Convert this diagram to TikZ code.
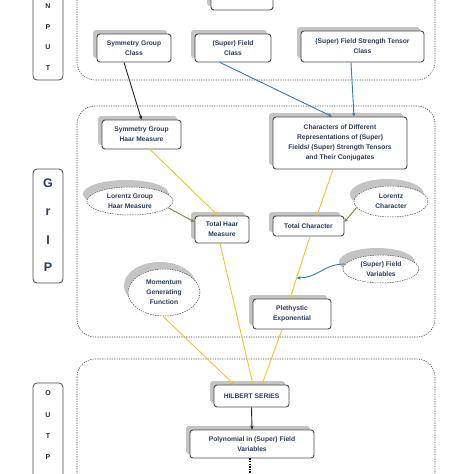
\documentclass[tikz,border=0pt]{standalone}
\usepackage{fontspec}
\setmainfont{Liberation Sans}
\usetikzlibrary{shapes.geometric,shadows,calc,arrows.meta}
\definecolor{txt}{HTML}{2A3B5C}
\definecolor{bord}{HTML}{4A4A4A}
\definecolor{shad}{HTML}{C4C4C4}
\definecolor{yel}{HTML}{F0C429}
\definecolor{blu}{HTML}{2B7BB9}
\definecolor{oli}{HTML}{76874A}
\begin{document}
\begin{tikzpicture}[x=1pt,y=-1pt,
  box/.style={draw=bord, line width=0.9pt, rounded corners=3pt, fill=white, align=center,
    font=\fontsize{6.7}{10}\selectfont\bfseries, text=txt, inner sep=0pt,
    general shadow={fill=shad, shadow xshift=-4pt, shadow yshift=4pt}},
  ell/.style={ellipse, draw=bord, line width=0.5pt, dash pattern=on 1.5pt off 1pt, fill=white, align=center,
    font=\fontsize{6.7}{10}\selectfont\bfseries, text=txt, inner sep=0pt,
    general shadow={fill=shad, shadow xshift=-4pt, shadow yshift=7pt}},
  region/.style={draw=bord, line width=0.6pt, dash pattern=on 1.2pt off 1.2pt, rounded corners=18pt},
  side/.style={draw=bord, line width=0.8pt, rounded corners=4pt, fill=white},
  letter/.style={font=\fontsize{7}{8}\selectfont\bfseries, text=black!85},
  bigletter/.style={font=\fontsize{12.5}{13}\selectfont\bfseries, text=txt},
  yarr/.style={draw=yel, line width=0.9pt, -{Stealth[length=4pt,width=3.5pt]}},
  barr/.style={draw=blu, line width=0.9pt, -{Stealth[length=4pt,width=3.5pt]}},
  oarr/.style={draw=oli, line width=0.9pt, -{Stealth[length=4pt,width=3.5pt]}},
  karr/.style={draw=black!85, line width=0.9pt, -{Stealth[length=4pt,width=3.5pt]}}
]
\useasboundingbox (0,0) rectangle (474,474);
\clip (0,0) rectangle (474,474);
\fill[white] (0,0) rectangle (474,474);

% regions
\draw[region] (77,-40) rectangle (435,80);
\draw[region] (77,106) rectangle (435,337);
\draw[region] (77,359) rectangle (435,540);

% side boxes
\draw[side] (33,-30) rectangle (63,80);
\node[letter] (li) at (48,-14) {I};
\node[letter] (ln) at (48,6) {N};
\node[letter] (lp) at (48,27) {P};
\node[letter] (lu) at (48,47) {U};
\node[letter] (lt) at (48,68) {T};

\draw[side] (33,169) rectangle (63,283);
\node[bigletter] (gg) at (48,183) {G};
\node[bigletter] (gr) at (48,212) {r};
\node[bigletter] (gi) at (48,240) {I};
\node[bigletter] (gp) at (48,267) {P};

\draw[side] (33,383) rectangle (63,540);
\node[letter] (oo) at (48,393) {O};
\node[letter] (ou) at (48,415) {U};
\node[letter] (ot) at (48,436) {T};
\node[letter] (op) at (48,457) {P};
\node[letter] (ou2) at (48,478) {U};

% rectangle nodes
\node[box, minimum width=62pt, minimum height=24pt] (model) at (242,-2) {Model Name};
\node[box, minimum width=74pt, minimum height=28pt] (sgc) at (134,48) {Symmetry Group\\Class};
\node[box, minimum width=76pt, minimum height=28pt] (sfc) at (233,48) {(Super) Field\\Class};
\node[box, minimum width=123pt, minimum height=31pt] (tc) at (362.5,46.5) {(Super) Field Strength Tensor\\Class};
\node[box, minimum width=79pt, minimum height=29pt] (sghm) at (141.5,134.5) {Symmetry Group\\Haar Measure};
\node[box, minimum width=134pt, minimum height=52pt] (chars) at (340,143) {Characters of Different\\Representations of (Super)\\Fields/ (Super) Strength Tensors\\and Their Conjugates};
\node[box, minimum width=54pt, minimum height=27pt] (thm) at (222,229.5) {Total Haar\\Measure};
\node[box, minimum width=71pt, minimum height=20pt] (tch) at (308.5,226) {Total Character};
\node[box, minimum width=78pt, minimum height=30pt] (pe) at (292,314) {Plethystic\\Exponential};
\node[box, minimum width=75pt, minimum height=22pt] (hs) at (251.5,396) {HILBERT SERIES};
\node[box, minimum width=124pt, minimum height=28pt] (poly) at (252,444) {Polynomial in (Super) Field\\Variables};

% ellipse nodes
\node[ell, minimum width=86pt, minimum height=28pt] (lghm) at (130,201) {Lorentz Group\\Haar Measure};
\node[ell, minimum width=74pt, minimum height=31pt] (lch) at (391,201.5) {Lorentz\\Character};
\node[ell, minimum width=76pt, minimum height=28pt] (sfv) at (381,269) {(Super) Field\\Variables};
\node[ell, minimum width=72pt, minimum height=47pt] (mgf) at (164,292.5) {Momentum\\Generating\\Function};

% connectors
\draw[karr] ($(sgc.south)+(-10,0)$) -- (sghm.north);
\draw[barr] ($(sfc.south)+(-13,0)$) -- ($(chars.north)+(-8,0)$);
\draw[barr] ($(tc.south)+(-11.5,0)$) -- ($(chars.north)+(14,0)$);
\draw[yarr] ($(sghm.south)+(8.5,0)$) -- ($(thm.north)+(-4,0)$);
\draw[oarr] (lghm.-10) -- ($(thm.west)+(0,-7.5)$);
\draw[yarr] ($(chars.south)+(-7,0)$) -- ($(tch.north)+(8.5,0)$);
\draw[oarr] (lch.-170) -- ($(tch.east)+(0,-4)$);
\draw[yarr] ($(tch.south)+(1.5,0)$) -- ($(pe.north)+(-2,0)$) coordinate[pos=0.667] (jn);
\draw[barr] (sfv.172) .. controls ($(sfv.172)+(-22,0)$) and ($(jn)+(22,0)$) .. (jn);
\draw[yarr] ($(thm.south)+(-2,0)$) -- ($(hs.north)+(1.5,0)$);
\draw[yarr] ($(mgf.south)+(-1,0)$) -- ($(hs.north)+(-17.5,0)$);
\draw[yarr] ($(pe.south)+(-10,0)$) -- ($(hs.north)+(10.5,0)$);
\draw[karr] (hs.south) -- (poly.north);
\coordinate (bot) at (250,490);
\draw[black, line width=1.3pt, dash pattern=on 1.3pt off 1.3pt] ($(poly.south)+(-2,0)$) -- (bot);
\end{tikzpicture}
\end{document}
